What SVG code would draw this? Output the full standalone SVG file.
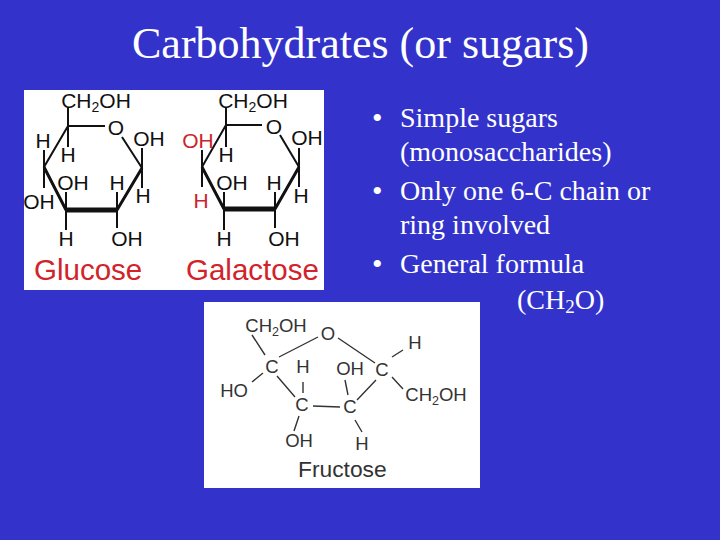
<svg xmlns="http://www.w3.org/2000/svg" width="720" height="540" viewBox="0 0 720 540">
<style>
text{font-family:"Liberation Sans",Arial,sans-serif}
.t{font-family:"Liberation Serif","Times New Roman",serif;fill:#fff}
.title{font-size:44px}
.b{font-size:28px}
.d{font-size:30px}
.a{font-size:21px;fill:#111;text-anchor:middle}
.r{fill:#c9252c}
.n{font-size:29.5px;fill:#d2232a}
.f{font-size:18.5px;fill:#333;text-anchor:middle}
.l{stroke:#111;stroke-width:2;fill:none}
.m{stroke:#111;stroke-width:3;fill:none}
.h{stroke:#111;stroke-width:5;fill:none}
.g{stroke:#333;stroke-width:1.4;fill:none}
</style>
<rect width="720" height="540" fill="#3333cc"/>
<text class="t title" x="132" y="58">Carbohydrates (or sugars)</text>
<g id="sugar-panel"><rect x="24" y="90" width="300" height="200" fill="#fff"/></g>
<g id="fructose-panel"><rect x="204" y="302" width="276" height="186" fill="#fff"/></g>
<g id="connectors">
<path class="l" d="M68 108V126H105M68 126L44 167V150M44 167V188M68 126V147M66 192V230M117 192V228M142 148V188M142 168L122 137"/>
<path class="m" d="M44 167L66 210M117 210L142 168"/>
<path class="h" d="M65 210H118"/>
<path class="l" d="M226 108V125H262M226 125L202 167V150M202 167V187M226 125V147M224 192V230M275 192V228M299 148V187M299 167L280 135"/>
<path class="m" d="M202 167L224 209M275 209L299 167"/>
<path class="h" d="M223 209H276"/>
<path class="g" d="M252 335L265 355M279 357L318 337M338 338L375 363M392 357L403 350M392 377L403 389M252 382L263 373M277 376L295 397M303 382V393M299 416L294 431M313 406L340 407M357 400L376 380M345 380L348 395M355 420L362 432"/>
</g>
<g id="glucose">
<text class="a" x="96" y="108">CH<tspan font-size="14" dy="4">2</tspan><tspan dy="-4">OH</tspan></text>
<text class="a" x="116" y="135">O</text>
<text class="a" x="149" y="146">OH</text>
<text class="a" x="43" y="148">H</text>
<text class="a" x="68" y="162">H</text>
<text class="a" x="73" y="190">OH</text>
<text class="a" x="39" y="209">OH</text>
<text class="a" x="117" y="190">H</text>
<text class="a" x="143" y="203">H</text>
<text class="a" x="66" y="246">H</text>
<text class="a" x="127" y="246">OH</text>
<text class="n" x="34" y="280">Glucose</text>
</g>
<g id="galactose">
<text class="a" x="253" y="108">CH<tspan font-size="14" dy="4">2</tspan><tspan dy="-4">OH</tspan></text>
<text class="a" x="274" y="134">O</text>
<text class="a" x="307" y="145">OH</text>
<text class="a r" x="198" y="148">OH</text>
<text class="a" x="226" y="162">H</text>
<text class="a" x="232" y="190">OH</text>
<text class="a r" x="201" y="208">H</text>
<text class="a" x="274" y="190">H</text>
<text class="a" x="301" y="203">H</text>
<text class="a" x="224" y="246">H</text>
<text class="a" x="284" y="246">OH</text>
<text class="n" x="186" y="280">Galactose</text>
</g>
<g id="fructose">
<text class="f" x="276" y="332">CH<tspan font-size="12.5" dy="4">2</tspan><tspan dy="-4">OH</tspan></text>
<text class="f" x="328" y="340">O</text>
<text class="f" x="415" y="349">H</text>
<text class="f" x="272" y="373">C</text>
<text class="f" x="303" y="373">H</text>
<text class="f" x="350" y="375">OH</text>
<text class="f" x="382" y="376">C</text>
<text class="f" x="234" y="397">HO</text>
<text class="f" x="436" y="401">CH<tspan font-size="12.5" dy="4">2</tspan><tspan dy="-4">OH</tspan></text>
<text class="f" x="302" y="411">C</text>
<text class="f" x="350" y="413">C</text>
<text class="f" x="299" y="447">OH</text>
<text class="f" x="362" y="450">H</text>
<text x="298" y="477" font-size="22.8" fill="#333">Fructose</text>
</g>
<g id="bullets">
<text class="t d" x="372" y="128">•</text><text class="t b" x="400" y="127">Simple sugars</text>
<text class="t b" x="400" y="161">(monosaccharides)</text>
<text class="t d" x="372" y="201">•</text><text class="t b" x="400" y="200">Only one 6-C chain or</text>
<text class="t b" x="400" y="234">ring involved</text>
<text class="t d" x="372" y="274">•</text><text class="t b" x="400" y="273">General formula</text>
<text class="t b" x="517" y="309">(CH<tspan font-size="19" dy="4">2</tspan><tspan dy="-4">O)</tspan></text>
</g>
</svg>
